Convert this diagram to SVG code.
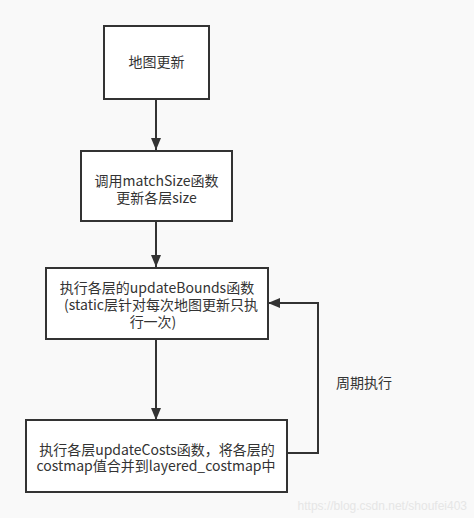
<svg xmlns="http://www.w3.org/2000/svg" width="474" height="518" viewBox="0 0 474 518">
<style>
.box{fill:#fff;stroke:#333;stroke-width:2}
.t{font-family:"Noto Sans CJK SC","Microsoft YaHei",sans-serif;font-size:14px;fill:#333;text-anchor:middle}
.c{fill:none;stroke:#333;stroke-width:2}
.wm{font-family:"Liberation Sans",Arial,sans-serif;font-size:12px;fill:#e6e6e6}
</style>
<defs>
<marker id="ah" viewBox="0 0 12 10" refX="12" refY="5" markerWidth="12" markerHeight="10" markerUnits="userSpaceOnUse" orient="auto">
<path d="M0,0 L12,5 L0,10 Z" fill="#333"/>
</marker>
</defs>
<rect width="474" height="518" fill="#f9f9f9"/>
<g id="connectors">
<line class="c" x1="156" y1="99" x2="156" y2="150" marker-end="url(#ah)"/>
<line class="c" x1="156" y1="221" x2="156" y2="267" marker-end="url(#ah)"/>
<line class="c" x1="156" y1="339" x2="156" y2="420" marker-end="url(#ah)"/>
<polyline class="c" points="287,453 318,453 318,303 268,303" marker-end="url(#ah)"/>
<text id="loop-label" class="t" x="364" y="388">周期执行</text>
</g>
<g id="n1">
<rect class="box" x="104" y="26" width="105" height="73"/>
<text class="t" x="156.5" y="67">地图更新</text>
</g>
<g id="n2">
<rect class="box" x="81" y="151" width="151" height="70"/>
<text class="t" x="156.5" y="186">调用matchSize函数</text>
<text class="t" x="156.5" y="203">更新各层size</text>
</g>
<g id="n3">
<rect class="box" x="46" y="268" width="222" height="71"/>
<text class="t" x="157" y="293">执行各层的updateBounds函数</text>
<text class="t" x="161" y="310">(static层针对每次地图更新只执</text>
<text class="t" x="153" y="327">行一次)</text>
</g>
<g id="n4">
<rect class="box" x="26" y="420" width="261" height="72"/>
<text class="t" x="157" y="455">执行各层updateCosts函数，将各层的</text>
<text class="t" x="156" y="471">costmap值合并到layered_costmap中</text>
</g>
<text class="wm" x="467" y="510" text-anchor="end">https://blog.csdn.net/shoufei403</text>
</svg>
